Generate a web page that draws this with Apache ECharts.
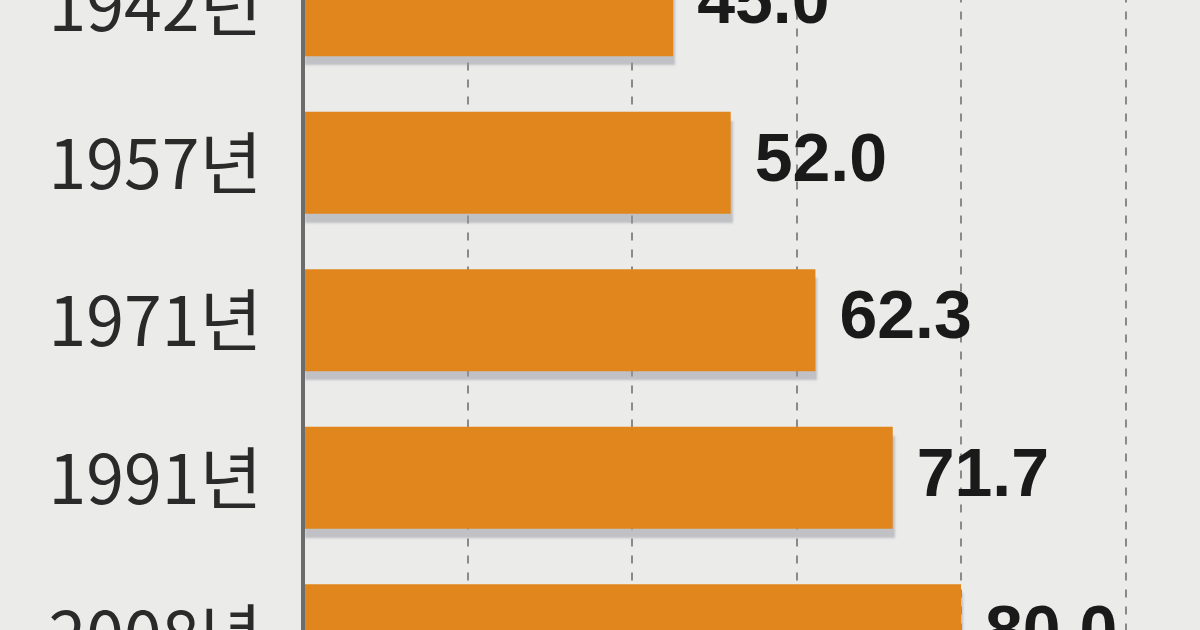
<!DOCTYPE html>
<html>
<head>
<meta charset="utf-8">
<script src="https://cdn.jsdelivr.net/npm/echarts@6/dist/echarts.min.js"></script>
<style>
html,body{margin:0;padding:0;background:#ebebea;overflow:hidden;width:1200px;height:630px;}
#c{position:absolute;left:0;top:-74px;width:1200px;height:790px;}
</style>
</head>
<body>
<div id="c"></div>
<script>
const categories = ['1942년', '1957년', '1971년', '1991년', '2008년'];
const values = [45.0, 52.0, 62.3, 71.7, 80.0];
const axisMin = 0, axisMax = 100, axisStep = 20;

const chart = echarts.init(document.getElementById('c'), null, {renderer: 'canvas'});
chart.setOption({
  backgroundColor: '#ebebea',
  animation: false,
  grid: {left: 303, right: 74.5, top: 0.6, height: 787.5, containLabel: false},
  xAxis: {
    type: 'value', min: axisMin, max: axisMax, interval: axisStep,
    axisLabel: {show: false}, axisLine: {show: false}, axisTick: {show: false},
    splitLine: {show: true, lineStyle: {color: '#8a8a8a', width: 2, type: [8, 9]}}
  },
  yAxis: {
    type: 'category', data: categories, inverse: true, z: 10,
    axisLine: {show: true, lineStyle: {color: '#6c6c6c', width: 4}},
    axisTick: {show: false},
    axisLabel: {
      margin: 41, color: '#2a2a2a', fontSize: 68,
      fontFamily: "'Liberation Sans Narrow', 'Noto Sans CJK KR', sans-serif"
    }
  },
  series: [{
    type: 'bar', data: values, barWidth: 102,
    itemStyle: {
      color: '#e0861c',
      shadowColor: 'rgba(150,152,160,0.5)', shadowOffsetY: 9, shadowOffsetX: 2, shadowBlur: 2
    },
    label: {
      show: true, position: 'right', distance: 24, offset: [0, -1],
      color: '#1a1a1a', fontSize: 68, fontWeight: 'bold',
      fontFamily: "'Liberation Sans Narrow', 'Liberation Sans', sans-serif",
      formatter: p => p.value.toFixed(1)
    }
  }]
});
</script>
</body>
</html>
